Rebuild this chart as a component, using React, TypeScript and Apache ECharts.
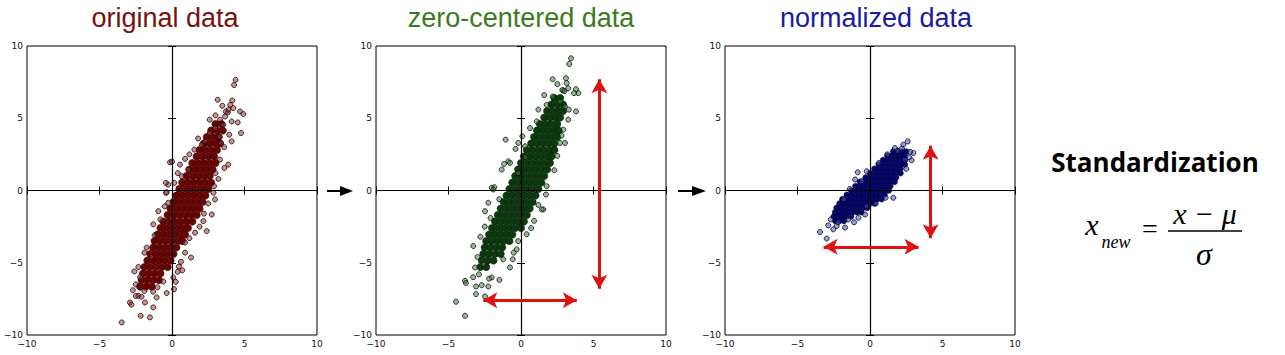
import React, { useEffect, useRef } from "react";
import * as echarts from "echarts";

const titles = ["original data", "zero-centered data", "normalized data"];
const titleColors = ["#7a1010", "#3c7a22", "#1a1aa4"];
const axisMin = -10;
const axisMax = 10;
const axisStep = 5;

// dense core of each cloud, rows: [y, x1, x2, ...]
const originalCoreRows = [
  [4.6, 3.0, 3.4],
  [4.15, 2.7, 3.1, 3.5],
  [3.7, 2.4, 2.8, 3.2],
  [3.25, 2.2, 2.6, 3.0, 3.3],
  [2.8, 1.9, 2.3, 2.7, 3.1],
  [2.35, 1.7, 2.1, 2.5, 2.9],
  [1.9, 1.4, 1.8, 2.2, 2.6, 3.0],
  [1.45, 1.2, 1.6, 2.0, 2.4, 2.8],
  [1.0, 1.0, 1.4, 1.8, 2.2, 2.6],
  [0.55, 0.7, 1.1, 1.5, 1.9, 2.3, 2.7],
  [0.1, 0.5, 0.9, 1.3, 1.7, 2.1, 2.5],
  [-0.35, 0.3, 0.7, 1.1, 1.5, 1.9, 2.3],
  [-0.8, 0.1, 0.5, 0.9, 1.3, 1.7, 2.1],
  [-1.25, -0.1, 0.3, 0.7, 1.1, 1.5, 1.9],
  [-1.7, -0.3, 0.1, 0.5, 0.9, 1.3, 1.7],
  [-2.15, -0.6, -0.2, 0.2, 0.6, 1.0, 1.4],
  [-2.6, -0.8, -0.4, 0.0, 0.4, 0.8, 1.1],
  [-3.05, -1.0, -0.6, -0.2, 0.2, 0.6, 0.9],
  [-3.5, -1.2, -0.8, -0.4, 0.0, 0.4, 0.7],
  [-3.95, -1.3, -0.9, -0.5, -0.1, 0.3],
  [-4.4, -1.5, -1.1, -0.7, -0.3, 0.1],
  [-4.85, -1.7, -1.3, -0.9, -0.5, -0.1],
  [-5.3, -1.9, -1.5, -1.1, -0.7, -0.3],
  [-5.75, -2.0, -1.6, -1.2, -0.8],
  [-6.2, -2.1, -1.7, -1.3, -0.9],
  [-6.65, -2.2, -1.8, -1.4],
];

const originalSparse = [
  [4.39, 7.66], [4.28, 7.3], [3.15, 6.28], [4.16, 6.23], [4.02, 5.93], [3.47, 5.86],
  [3.72, 5.47], [3.85, 5.4], [3.9, 5.6], [4.69, 5.47], [4.92, 5.29], [4.76, 3.98],
  [4.23, 5.7], [3.66, 5.12], [3.31, 4.9], [4.11, 4.78], [4.53, 4.71], [3.54, 4.55],
  [2.97, 4.32], [2.62, 3.98], [3.95, 3.86], [4.11, 3.4], [2.28, 3.4], [3.38, 3.29],
  [1.54, 2.83], [2.05, 3.17], [0.9, 2.19], [-0.14, 1.95], [0.55, 1.79], [1.13, 1.45],
  [3.88, 1.79], [3.61, 1.56], [3.31, 2.14], [-0.26, 0.41], [0.16, 0.53], [-0.37, -0.12],
  [0.67, 0.99], [0.0, 2.0], [-0.43, 0.53], [3.3, 3.7], [3.6, 3.0], [2.6, 4.9], [3.0, 5.2],
  [1.8, 3.6], [1.2, 2.5], [0.4, 1.2], [3.2, 0.8], [3.0, 1.2], [2.9, 0.3],
  [-3.47, -9.13], [-2.16, -8.67], [-1.52, -8.78], [-2.9, -7.75], [-2.8, -7.9],
  [-2.32, -7.29], [-2.1, -7.35], [-2.5, -7.3], [-1.86, -7.75], [-1.29, -8.09],
  [-1.06, -7.4], [-0.37, -7.1], [0.14, -6.83], [0.26, -6.32], [0.09, -6.02],
  [0.39, -5.63], [0.71, -5.52], [0.48, -5.26], [1.31, -4.64], [0.9, -4.3], [0.62, -4.94],
  [-2.32, -5.29], [-1.75, -3.95], [-1.29, -2.34], [-0.94, -1.43], [-0.26, -0.85],
  [-0.41, -0.16], [2.39, -2.81], [2.74, -1.66], [2.97, -0.62], [2.86, -0.16],
  [2.16, -2.12], [1.59, -2.92], [-2.5, -6.5], [-2.7, -6.9], [-1.9, -6.95], [-2.2, -6.0],
  [-1.0, -6.7], [-0.6, -6.3], [-2.6, -5.6], [-1.3, -7.0], [2.5, -0.9], [2.2, -1.6],
  [1.9, -2.5], [1.2, -3.3], [0.9, -3.6], [-1.4, -4.6], [-1.9, -4.3], [-1.2, -3.1],
  [-0.8, -2.0], [-0.5, -1.1],
];

const zeroCoreRows = [
  [6.4, 2.3, 2.7],
  [5.95, 2.1, 2.5, 2.9],
  [5.5, 1.8, 2.2, 2.6, 2.9],
  [5.05, 1.6, 2.0, 2.4, 2.7],
  [4.6, 1.3, 1.7, 2.1, 2.5],
  [4.15, 1.1, 1.5, 1.9, 2.3, 2.6],
  [3.7, 0.9, 1.3, 1.7, 2.1, 2.5],
  [3.25, 0.7, 1.1, 1.5, 1.9, 2.3],
  [2.8, 0.4, 0.8, 1.2, 1.6, 2.0, 2.3],
  [2.35, 0.2, 0.6, 1.0, 1.4, 1.8, 2.1],
  [1.9, 0.0, 0.4, 0.8, 1.2, 1.6, 2.0],
  [1.45, -0.2, 0.2, 0.6, 1.0, 1.4, 1.8],
  [1.0, -0.4, 0.0, 0.4, 0.8, 1.2, 1.6],
  [0.55, -0.6, -0.2, 0.2, 0.6, 1.0, 1.4],
  [0.1, -0.8, -0.4, 0.0, 0.4, 0.8, 1.2],
  [-0.35, -1.0, -0.6, -0.2, 0.2, 0.6, 1.0],
  [-0.8, -1.2, -0.8, -0.4, 0.0, 0.4, 0.8],
  [-1.25, -1.4, -1.0, -0.6, -0.2, 0.2, 0.6],
  [-1.7, -1.6, -1.2, -0.8, -0.4, 0.0, 0.4],
  [-2.15, -1.8, -1.4, -1.0, -0.6, -0.2, 0.2],
  [-2.6, -2.0, -1.6, -1.2, -0.8, -0.4, 0.0],
  [-3.05, -2.2, -1.8, -1.4, -1.0, -0.6],
  [-3.5, -2.4, -2.0, -1.6, -1.2, -0.8],
  [-3.95, -2.5, -2.1, -1.7, -1.3],
  [-4.4, -2.6, -2.2, -1.8, -1.4],
  [-4.85, -2.7, -2.3, -1.9],
  [-5.3, -2.8, -2.4],
];

const zeroSparse = [
  [3.45, 9.15], [3.33, 8.76], [2.18, 7.7], [3.1, 7.77], [2.51, 7.36], [3.15, 7.43],
  [3.26, 7.08], [3.79, 7.01], [3.95, 6.74], [2.92, 6.92], [2.85, 6.95], [3.0, 6.88],
  [2.18, 6.5], [2.69, 6.16], [3.66, 6.74], [3.79, 5.47], [3.03, 5.81], [1.77, 5.93],
  [3.26, 4.9], [2.92, 4.21], [3.03, 3.29], [2.69, 3.29], [0.62, 4.32], [1.08, 4.78],
  [-1.06, 3.52], [-0.19, 3.29], [-0.37, 2.88], [-0.87, 2.02], [-1.17, 1.84],
  [-0.76, 1.91], [-1.33, 1.45], [-1.84, 0.23], [-2.02, 0.19], [0.09, 3.75], [0.28, 3.06],
  [1.54, -1.31], [2.3, 1.4], [2.5, 2.4], [2.8, 3.8], [3.3, 5.6], [1.2, 5.6], [1.6, 6.6],
  [0.3, 2.3], [-0.2, 1.2],
  [-4.48, -7.7], [-3.86, -8.67], [-3.86, -6.25], [-3.8, -6.4], [-3.1, -6.64],
  [-3.1, -7.17], [-2.48, -7.33], [-2.71, -6.55], [-2.25, -6.64], [-2.02, -6.02],
  [-3.17, -5.33], [-3.29, -3.84], [-2.48, -1.43], [-2.25, -0.85], [-1.91, 0.07],
  [-0.76, -5.33], [-0.57, -4.76], [-0.3, -4.07], [-0.19, -3.5], [0.39, -3.03],
  [1.43, -1.31], [1.72, -0.28], [1.77, 0.3], [-1.49, -6.19], [-2.2, -6.1],
  [-1.22, -4.76], [-0.5, -4.3], [-2.9, -5.8], [-3.3, -6.0], [-2.6, -5.1], [-3.0, -4.6],
  [-2.8, -3.2], [-2.5, -2.5], [-2.1, -1.9], [-1.5, -0.6], [0.9, -2.1], [1.2, -1.0],
  [0.7, -2.6],
];

const normCoreRows = [
  [2.7, 1.6, 1.9, 2.2, 2.5],
  [2.4, 1.2, 1.5, 1.8, 2.1, 2.4],
  [2.1, 0.9, 1.2, 1.5, 1.8, 2.1, 2.4],
  [1.8, 0.6, 0.9, 1.2, 1.5, 1.8, 2.1, 2.4],
  [1.5, 0.3, 0.6, 0.9, 1.2, 1.5, 1.8, 2.1],
  [1.2, 0.0, 0.3, 0.6, 0.9, 1.2, 1.5, 1.8, 2.1],
  [0.9, -0.3, 0.0, 0.3, 0.6, 0.9, 1.2, 1.5, 1.8],
  [0.6, -0.7, -0.4, -0.1, 0.2, 0.5, 0.8, 1.1, 1.4, 1.7],
  [0.3, -1.0, -0.7, -0.4, -0.1, 0.2, 0.5, 0.8, 1.1, 1.4],
  [0.0, -1.3, -1.0, -0.7, -0.4, -0.1, 0.2, 0.5, 0.8, 1.1, 1.3],
  [-0.3, -1.6, -1.3, -1.0, -0.7, -0.4, -0.1, 0.2, 0.5, 0.8, 1.0],
  [-0.6, -1.9, -1.6, -1.3, -1.0, -0.7, -0.4, -0.1, 0.2, 0.5, 0.8],
  [-0.9, -2.1, -1.8, -1.5, -1.2, -0.9, -0.6, -0.3, 0.0, 0.3],
  [-1.2, -2.3, -2.0, -1.7, -1.4, -1.1, -0.8, -0.5, -0.2],
  [-1.5, -2.4, -2.1, -1.8, -1.5, -1.2, -0.9, -0.6],
  [-1.8, -2.5, -2.2, -1.9, -1.6, -1.3],
  [-2.1, -2.4, -2.1, -1.8],
];

const normSparse = [
  [2.6, 3.4], [2.3, 3.17], [1.72, 2.94], [2.99, 2.6], [2.76, 2.67], [2.87, 2.09],
  [2.41, 2.14], [-0.85, 1.26], [-0.57, 0.64], [-1.03, 0.76], [-0.23, 1.33], [1.61, -0.5],
  [1.08, -0.5], [-2.88, -2.41], [-2.3, -2.46], [-1.72, -2.57], [-1.5, -2.0],
  [-0.34, -1.66], [-0.8, -1.89], [-0.23, -1.08], [-3.45, -2.87], [-2.99, -3.33],
  [-2.53, -2.69], [2.7, 2.3], [2.2, 2.9], [1.9, 2.75], [-2.7, -2.0], [-2.2, -2.2],
  [-1.1, -2.2], [0.4, -0.9], [-1.4, 0.1], [-1.8, -0.6], [2.5, 1.5], [0.6, 1.9], [1.2, 2.5],
];

// red spread arrows [from, to] in data units
const zeroArrows = [
  [[5.4, 7.7], [5.4, -6.8]],
  [[-2.6, -7.6], [3.85, -7.6]],
];
const normArrows = [
  [[4.18, 3.1], [4.18, -3.3]],
  [[-3.2, -3.9], [3.35, -3.9]],
];

const coreRows = [originalCoreRows, zeroCoreRows, normCoreRows];
const sparsePoints = [originalSparse, zeroSparse, normSparse];
const arrowSets = [[], zeroArrows, normArrows];

const palettes = [
  { core: "rgb(104,6,6)", coreBorder: "rgba(30,0,0,0.6)", fill: "rgba(150,60,60,0.55)", border: "rgba(30,0,0,0.9)" },
  { core: "rgb(14,56,14)", coreBorder: "rgba(0,20,0,0.6)", fill: "rgba(80,120,80,0.55)", border: "rgba(0,25,0,0.9)" },
  { core: "rgb(8,8,104)", coreBorder: "rgba(0,0,45,0.6)", fill: "rgba(80,80,170,0.55)", border: "rgba(0,0,55,0.9)" },
];

const gridLefts = [27, 376, 725];

function rowsToPoints(rows: number[][]) {
  const pts: number[][] = [];
  rows.forEach((r) => {
    const y = r[0];
    for (let i = 1; i < r.length; i++) pts.push([r[i], y]);
  });
  return pts;
}

const fmt = (v: number) => (v < 0 ? "\u2212" + Math.abs(v) : String(v));

export default function App() {
  const ref = useRef<HTMLDivElement>(null);
  useEffect(() => {
    if (!ref.current) return;
    const chart = echarts.init(ref.current, undefined, { renderer: "svg" });
    const grid: any[] = [];
    const xAxis: any[] = [];
    const yAxis: any[] = [];
    const series: any[] = [];
    const tickStyle = { show: true, inside: true, length: 4, lineStyle: { color: "#000", width: 1 } };
    const labelStyle = { fontSize: 9, fontFamily: "DejaVu Sans", color: "#111", margin: 4, formatter: fmt };
    for (let i = 0; i < 3; i++) {
      grid.push({ left: gridLefts[i], top: 46, width: 290, height: 289, show: true, borderColor: "#000", borderWidth: 1, backgroundColor: "#fff" });
      const base = { type: "value", gridIndex: i, min: axisMin, max: axisMax, interval: axisStep, splitLine: { show: false }, axisLine: { show: false } };
      xAxis.push({ ...base, position: "bottom", axisTick: tickStyle, axisLabel: labelStyle });
      xAxis.push({ ...base, position: "top", axisTick: tickStyle, axisLabel: { show: false } });
      yAxis.push({ ...base, position: "left", axisTick: tickStyle, axisLabel: labelStyle });
      yAxis.push({ ...base, position: "right", axisTick: tickStyle, axisLabel: { show: false } });
      const p = palettes[i];
      series.push({
        type: "scatter",
        xAxisIndex: i * 2,
        yAxisIndex: i * 2,
        symbolSize: i === 2 ? 6 : 7.5,
        data: rowsToPoints(coreRows[i]),
        itemStyle: { color: p.core, borderColor: p.coreBorder, borderWidth: 0.5, opacity: 1 },
        silent: true,
        markLine: {
          silent: true,
          symbol: ["none", "none"],
          label: { show: false },
          lineStyle: { color: "#000", type: "solid", width: 1.2 },
          data: [{ xAxis: 0 }, { yAxis: 0 }],
        },
      });
      series.push({
        type: "scatter",
        xAxisIndex: i * 2,
        yAxisIndex: i * 2,
        symbolSize: 5,
        data: sparsePoints[i],
        itemStyle: { color: p.fill, borderColor: p.border, borderWidth: 0.9, opacity: 1 },
        silent: true,
        markLine: {
          silent: true,
          symbol: ["arrow", "arrow"],
          symbolSize: [12, 14],
          label: { show: false },
          lineStyle: { color: "#e01010", type: "solid", width: 3, opacity: 1 },
          data: arrowSets[i].map((a: number[][]) => [{ coord: a[0] }, { coord: a[1] }]),
        },
      });
    }
    const titleCenters = [165, 521, 876];
    const graphic: any[] = [];
    const txt = (x: number, y: number, text: string, s: any, fill = "#000") => ({
      type: "text",
      x,
      y,
      style: { text, fill, align: "center", verticalAlign: "middle", ...s },
    });
    titles.forEach((t, i) => {
      graphic.push(txt(titleCenters[i], 18, t, { fontSize: 27, fontFamily: "Arial" }, titleColors[i]));
    });
    [[327, 340, 353], [678, 692, 706]].forEach(([a, b, c]) => {
      graphic.push({ type: "line", shape: { x1: a, y1: 191, x2: b + 2, y2: 191 }, style: { stroke: "#000", lineWidth: 2 } });
      graphic.push({ type: "polygon", shape: { points: [[b, 186], [c, 191], [b, 196]] }, style: { fill: "#000" } });
    });
    graphic.push(txt(1155, 162, "Standardization", { fontSize: 26, fontWeight: "bold", fontFamily: "Open Sans" }));
    const serif = "serif";
    graphic.push(txt(1092, 224, "x", { fontSize: 30, fontStyle: "italic", fontFamily: serif }));
    graphic.push(txt(1116, 242, "new", { fontSize: 18, fontStyle: "italic", fontFamily: serif }));
    graphic.push(txt(1150, 228, "=", { fontSize: 28, fontFamily: serif }));
    graphic.push({ type: "line", shape: { x1: 1168, y1: 231, x2: 1242, y2: 231 }, style: { stroke: "#000", lineWidth: 1.5 } });
    graphic.push(txt(1205, 213, "x \u2212 \u03BC", { fontSize: 30, fontStyle: "italic", fontFamily: serif }));
    graphic.push(txt(1204, 254, "\u03C3", { fontSize: 32, fontStyle: "italic", fontFamily: serif }));

    chart.setOption({ animation: false, backgroundColor: "#fff", grid, xAxis, yAxis, series, graphic });
    return () => chart.dispose();
  }, []);
  return <div ref={ref} style={{ position: "fixed", left: 0, top: 0, width: 1285, height: 355, background: "#fff" }} />;
}
